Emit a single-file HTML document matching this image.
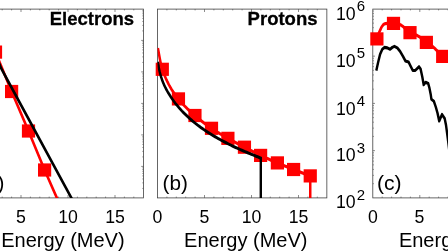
<!DOCTYPE html>
<html><head><meta charset="utf-8"><title>Energy spectra</title>
<style>html,body{margin:0;padding:0;background:#fff;overflow:hidden}svg{display:block}text{font-family:"Liberation Sans",sans-serif;fill:#000}</style></head><body>
<svg width="448" height="252" viewBox="0 0 448 252">
<rect width="448" height="252" fill="#fff"/>
<path d="M-16.60 197.9v-1.3M-16.60 9.1v1.3M-7.20 197.9v-1.3M-7.20 9.1v1.3M2.20 197.9v-1.3M2.20 9.1v1.3M11.60 197.9v-1.3M11.60 9.1v1.3M21.00 197.9v-2.9M21.00 9.1v2.9M30.40 197.9v-1.3M30.40 9.1v1.3M39.80 197.9v-1.3M39.80 9.1v1.3M49.20 197.9v-1.3M49.20 9.1v1.3M58.60 197.9v-1.3M58.60 9.1v1.3M68.00 197.9v-2.9M68.00 9.1v2.9M77.40 197.9v-1.3M77.40 9.1v1.3M86.80 197.9v-1.3M86.80 9.1v1.3M96.20 197.9v-1.3M96.20 9.1v1.3M105.60 197.9v-1.3M105.60 9.1v1.3M115.00 197.9v-2.9M115.00 9.1v2.9M124.40 197.9v-1.3M124.40 9.1v1.3M133.80 197.9v-1.3M133.80 9.1v1.3M-26.00 188.42h1.05M143.40 188.42h-1.05M-26.00 182.87h1.05M143.40 182.87h-1.05M-26.00 178.94h1.05M143.40 178.94h-1.05M-26.00 175.88h1.05M143.40 175.88h-1.05M-26.00 173.39h1.05M143.40 173.39h-1.05M-26.00 171.28h1.05M143.40 171.28h-1.05M-26.00 169.45h1.05M143.40 169.45h-1.05M-26.00 167.84h1.05M143.40 167.84h-1.05M-26.00 166.40h2.2M143.40 166.40h-2.2M-26.00 156.92h1.05M143.40 156.92h-1.05M-26.00 151.37h1.05M143.40 151.37h-1.05M-26.00 147.44h1.05M143.40 147.44h-1.05M-26.00 144.38h1.05M143.40 144.38h-1.05M-26.00 141.89h1.05M143.40 141.89h-1.05M-26.00 139.78h1.05M143.40 139.78h-1.05M-26.00 137.95h1.05M143.40 137.95h-1.05M-26.00 136.34h1.05M143.40 136.34h-1.05M-26.00 134.90h2.2M143.40 134.90h-2.2M-26.00 125.42h1.05M143.40 125.42h-1.05M-26.00 119.87h1.05M143.40 119.87h-1.05M-26.00 115.94h1.05M143.40 115.94h-1.05M-26.00 112.88h1.05M143.40 112.88h-1.05M-26.00 110.39h1.05M143.40 110.39h-1.05M-26.00 108.28h1.05M143.40 108.28h-1.05M-26.00 106.45h1.05M143.40 106.45h-1.05M-26.00 104.84h1.05M143.40 104.84h-1.05M-26.00 103.40h2.2M143.40 103.40h-2.2M-26.00 93.92h1.05M143.40 93.92h-1.05M-26.00 88.37h1.05M143.40 88.37h-1.05M-26.00 84.44h1.05M143.40 84.44h-1.05M-26.00 81.38h1.05M143.40 81.38h-1.05M-26.00 78.89h1.05M143.40 78.89h-1.05M-26.00 76.78h1.05M143.40 76.78h-1.05M-26.00 74.95h1.05M143.40 74.95h-1.05M-26.00 73.34h1.05M143.40 73.34h-1.05M-26.00 71.90h2.2M143.40 71.90h-2.2M-26.00 62.42h1.05M143.40 62.42h-1.05M-26.00 56.87h1.05M143.40 56.87h-1.05M-26.00 52.94h1.05M143.40 52.94h-1.05M-26.00 49.88h1.05M143.40 49.88h-1.05M-26.00 47.39h1.05M143.40 47.39h-1.05M-26.00 45.28h1.05M143.40 45.28h-1.05M-26.00 43.45h1.05M143.40 43.45h-1.05M-26.00 41.84h1.05M143.40 41.84h-1.05M-26.00 40.40h2.2M143.40 40.40h-2.2M-26.00 30.92h1.05M143.40 30.92h-1.05M-26.00 25.37h1.05M143.40 25.37h-1.05M-26.00 21.44h1.05M143.40 21.44h-1.05M-26.00 18.38h1.05M143.40 18.38h-1.05M-26.00 15.89h1.05M143.40 15.89h-1.05M-26.00 13.78h1.05M143.40 13.78h-1.05M-26.00 11.95h1.05M143.40 11.95h-1.05M-26.00 10.34h1.05M143.40 10.34h-1.05" stroke="#404040" stroke-width="0.6" fill="none"/>
<path d="M166.90 197.9v-1.3M166.90 9.1v1.3M176.30 197.9v-1.3M176.30 9.1v1.3M185.70 197.9v-1.3M185.70 9.1v1.3M195.10 197.9v-1.3M195.10 9.1v1.3M204.50 197.9v-2.9M204.50 9.1v2.9M213.90 197.9v-1.3M213.90 9.1v1.3M223.30 197.9v-1.3M223.30 9.1v1.3M232.70 197.9v-1.3M232.70 9.1v1.3M242.10 197.9v-1.3M242.10 9.1v1.3M251.50 197.9v-2.9M251.50 9.1v2.9M260.90 197.9v-1.3M260.90 9.1v1.3M270.30 197.9v-1.3M270.30 9.1v1.3M279.70 197.9v-1.3M279.70 9.1v1.3M289.10 197.9v-1.3M289.10 9.1v1.3M298.50 197.9v-2.9M298.50 9.1v2.9M307.90 197.9v-1.3M307.90 9.1v1.3M317.30 197.9v-1.3M317.30 9.1v1.3" stroke="#404040" stroke-width="0.6" fill="none"/>
<path d="M382.20 197.9v-1.3M382.20 9.1v1.3M391.60 197.9v-1.3M391.60 9.1v1.3M401.00 197.9v-1.3M401.00 9.1v1.3M410.40 197.9v-1.3M410.40 9.1v1.3M419.80 197.9v-2.9M419.80 9.1v2.9M429.20 197.9v-1.3M429.20 9.1v1.3M438.60 197.9v-1.3M438.60 9.1v1.3M448.00 197.9v-1.3M448.00 9.1v1.3M457.40 197.9v-1.3M457.40 9.1v1.3M466.80 197.9v-2.9M466.80 9.1v2.9M476.20 197.9v-1.3M476.20 9.1v1.3M485.60 197.9v-1.3M485.60 9.1v1.3M495.00 197.9v-1.3M495.00 9.1v1.3M504.40 197.9v-1.3M504.40 9.1v1.3M513.80 197.9v-2.9M513.80 9.1v2.9M523.20 197.9v-1.3M523.20 9.1v1.3M532.60 197.9v-1.3M532.60 9.1v1.3M372.80 183.68h1.05M542.00 183.68h-1.05M372.80 175.36h1.05M542.00 175.36h-1.05M372.80 169.45h1.05M542.00 169.45h-1.05M372.80 164.87h1.05M542.00 164.87h-1.05M372.80 161.13h1.05M542.00 161.13h-1.05M372.80 157.97h1.05M542.00 157.97h-1.05M372.80 155.23h1.05M542.00 155.23h-1.05M372.80 152.81h1.05M542.00 152.81h-1.05M372.80 150.65h2.2M542.00 150.65h-2.2M372.80 136.43h1.05M542.00 136.43h-1.05M372.80 128.11h1.05M542.00 128.11h-1.05M372.80 122.20h1.05M542.00 122.20h-1.05M372.80 117.62h1.05M542.00 117.62h-1.05M372.80 113.88h1.05M542.00 113.88h-1.05M372.80 110.72h1.05M542.00 110.72h-1.05M372.80 107.98h1.05M542.00 107.98h-1.05M372.80 105.56h1.05M542.00 105.56h-1.05M372.80 103.40h2.2M542.00 103.40h-2.2M372.80 89.18h1.05M542.00 89.18h-1.05M372.80 80.86h1.05M542.00 80.86h-1.05M372.80 74.95h1.05M542.00 74.95h-1.05M372.80 70.37h1.05M542.00 70.37h-1.05M372.80 66.63h1.05M542.00 66.63h-1.05M372.80 63.47h1.05M542.00 63.47h-1.05M372.80 60.73h1.05M542.00 60.73h-1.05M372.80 58.31h1.05M542.00 58.31h-1.05M372.80 56.15h2.2M542.00 56.15h-2.2M372.80 41.93h1.05M542.00 41.93h-1.05M372.80 33.61h1.05M542.00 33.61h-1.05M372.80 27.70h1.05M542.00 27.70h-1.05M372.80 23.12h1.05M542.00 23.12h-1.05M372.80 19.38h1.05M542.00 19.38h-1.05M372.80 16.22h1.05M542.00 16.22h-1.05M372.80 13.48h1.05M542.00 13.48h-1.05M372.80 11.06h1.05M542.00 11.06h-1.05" stroke="#404040" stroke-width="0.6" fill="none"/>
<rect x="-26.0" y="9.1" width="169.40" height="188.80" fill="none" stroke="#404040" stroke-width="0.8"/>
<rect x="157.5" y="9.1" width="169.35" height="188.80" fill="none" stroke="#404040" stroke-width="0.8"/>
<rect x="372.8" y="9.1" width="169.20" height="188.80" fill="none" stroke="#404040" stroke-width="0.8"/>
<defs>
<clipPath id="ca"><rect x="-26.0" y="9.1" width="169.40" height="188.80"/></clipPath>
<clipPath id="cb"><rect x="157.5" y="9.1" width="169.35" height="188.80"/></clipPath>
<clipPath id="cc"><rect x="372.8" y="9.1" width="169.20" height="188.80"/></clipPath>
</defs>
<g clip-path="url(#ca)"><g transform="scale(0.78 1)"><polyline points="-26.79,12.80 -5.77,52.10 14.87,91.50 36.54,131.00 57.18,170.00 74.10,200.00" fill="none" stroke="#ff0000" stroke-width="3.2"/></g></g>
<g clip-path="url(#cb)"><g transform="scale(0.78 1)"><polyline points="202.44,48.00 203.66,53.33 204.89,58.58 206.12,63.40 207.35,67.43 208.58,70.42 209.81,73.05 211.03,75.50 212.26,77.80 213.49,79.95 214.72,81.97 215.95,83.86 217.18,85.64 218.41,87.32 219.63,88.90 220.86,90.40 222.09,91.84 223.32,93.21 224.55,94.54 225.78,95.83 227.00,97.09 228.23,98.34 229.46,99.58 230.69,100.78 231.92,101.92 233.15,103.03 234.38,104.10 235.60,105.12 236.83,106.12 238.06,107.09 239.29,108.03 240.52,108.94 241.75,109.83 242.97,110.71 244.20,111.57 245.43,112.42 246.66,113.27 247.89,114.11 249.12,114.94 250.34,115.78 251.57,116.61 252.80,117.42 254.03,118.22 255.26,119.02 256.49,119.80 257.72,120.57 258.94,121.32 260.17,122.07 261.40,122.81 262.63,123.53 263.86,124.25 265.09,124.95 266.31,125.65 267.54,126.34 268.77,127.01 270.00,127.68 271.23,128.34 272.46,128.99 273.68,129.63 274.91,130.26 276.14,130.87 277.37,131.48 278.60,132.09 279.83,132.68 281.06,133.27 282.28,133.85 283.51,134.42 284.74,134.99 285.97,135.55 287.20,136.11 288.43,136.67 289.65,137.22 290.88,137.77 292.11,138.32 293.34,138.86 294.57,139.40 295.80,139.93 297.03,140.46 298.25,140.98 299.48,141.50 300.71,142.02 301.94,142.53 303.17,143.04 304.40,143.54 305.62,144.04 306.85,144.54 308.08,145.04 309.31,145.54 310.54,146.04 311.77,146.54 312.99,147.04 314.22,147.54 315.45,148.04 316.68,148.53 317.91,149.03 319.14,149.53 320.37,150.03 321.59,150.53 322.82,151.02 324.05,151.51 325.28,152.00 326.51,152.49 327.74,152.97 328.96,153.45 330.19,153.92 331.42,154.39 332.65,154.86 333.88,155.32 335.11,155.77 336.33,156.22 337.56,156.67 338.79,157.11 340.02,157.55 341.25,157.99 342.48,158.42 343.71,158.85 344.93,159.28 346.16,159.70 347.39,160.12 348.62,160.54 349.85,160.96 351.08,161.37 352.30,161.79 353.53,162.20 354.76,162.61 355.99,163.02 357.22,163.42 358.45,163.82 359.68,164.23 360.90,164.62 362.13,165.02 363.36,165.41 364.59,165.81 365.82,166.20 367.05,166.58 368.27,166.97 369.50,167.36 370.73,167.74 371.96,168.12 373.19,168.50 374.42,168.88 375.64,169.26 376.87,169.64 378.10,170.02 379.33,170.40 380.56,170.77 381.79,171.15 383.02,171.52 384.24,171.89 385.47,172.26 386.70,172.63 387.93,173.00 389.16,173.37 390.39,173.73 391.61,174.10 392.84,174.46 394.07,174.82 395.30,175.18 396.53,175.54 397.76,175.90 397.76,199.00" fill="none" stroke="#ff0000" stroke-width="3.2" stroke-linejoin="round"/></g></g>
<g clip-path="url(#cc)"><g transform="scale(0.78 1)"><polyline points="483.21,38.90 484.87,34.80 486.15,32.30 487.56,29.90 489.23,27.00 491.54,24.60 494.23,23.60 496.79,23.30 500.00,23.30 504.49,23.40 505.20,23.29 505.90,23.23 506.61,23.20 507.32,23.21 508.03,23.26 508.73,23.35 509.44,23.47 510.15,23.63 510.86,23.83 511.57,24.06 512.27,24.32 512.98,24.61 513.69,24.93 514.40,25.28 515.10,25.66 515.81,26.05 516.52,26.47 517.23,26.91 517.94,27.37 518.64,27.84 519.35,28.33 520.06,28.82 520.77,29.32 521.47,29.82 522.18,30.33 522.89,30.82 523.60,31.32 524.31,31.80 525.01,32.27 525.72,32.65 526.43,32.84 527.14,33.03 527.85,33.22 528.55,33.42 529.26,33.62 529.97,33.82 530.68,34.04 531.38,34.26 532.09,34.49 532.80,34.74 533.51,35.00 534.22,35.27 534.92,35.55 535.63,35.85 536.34,36.17 537.05,36.50 537.75,36.85 538.46,37.21 539.17,37.59 539.88,37.99 540.59,38.40 541.29,38.82 542.00,39.26 542.71,39.72 543.42,40.18 544.13,40.66 544.83,41.15 545.54,41.65 546.25,42.15 546.96,42.52 547.66,42.80 548.37,43.10 549.08,43.41 549.79,43.75 550.50,44.10 551.20,44.47 551.91,44.86 552.62,45.26 553.33,45.69 554.03,46.13 554.74,46.59 555.45,47.07 556.16,47.56 556.87,48.06 557.57,48.58 558.28,49.11 558.99,49.66 559.70,50.21 560.41,50.77 561.11,51.33 561.82,51.90 562.53,52.48 563.24,53.05 563.94,53.62 564.65,54.18 565.36,54.74 566.07,55.29 566.78,55.82 567.48,56.34 568.19,56.63 568.90,56.88 569.61,57.13 570.31,57.38 571.02,57.64 571.73,57.89 572.44,58.16 573.15,58.42 573.85,58.70 574.56,58.98 575.27,59.26 575.98,59.56 576.68,59.86 577.39,60.17 578.10,60.50 578.81,60.83 579.52,61.16 580.22,61.51 580.93,61.87 581.64,62.23 582.35,62.60 583.06,62.97 583.76,63.35 584.47,63.73 585.18,64.12 585.89,64.50 586.59,64.89 587.30,65.27 588.01,65.65 588.72,65.98" fill="none" stroke="#ff0000" stroke-width="3.2" stroke-linejoin="round"/></g></g>
<g fill="#ff0000"><rect x="-27.50" y="6.20" width="13.2" height="13.2"/><rect x="-11.10" y="45.50" width="13.2" height="13.2"/><rect x="5.00" y="84.90" width="13.2" height="13.2"/><rect x="21.90" y="124.40" width="13.2" height="13.2"/><rect x="38.00" y="163.40" width="13.2" height="13.2"/><rect x="155.70" y="62.70" width="13.2" height="13.2"/><rect x="171.85" y="92.30" width="13.2" height="13.2"/><rect x="188.35" y="108.90" width="13.2" height="13.2"/><rect x="204.90" y="121.70" width="13.2" height="13.2"/><rect x="221.30" y="131.75" width="13.2" height="13.2"/><rect x="237.85" y="140.60" width="13.2" height="13.2"/><rect x="254.00" y="148.80" width="13.2" height="13.2"/><rect x="270.80" y="156.30" width="13.2" height="13.2"/><rect x="287.00" y="162.90" width="13.2" height="13.2"/><rect x="303.65" y="169.30" width="13.2" height="13.2"/><rect x="370.30" y="32.30" width="13.2" height="13.2"/><rect x="386.90" y="16.80" width="13.2" height="13.2"/><rect x="403.40" y="26.05" width="13.2" height="13.2"/><rect x="419.75" y="35.80" width="13.2" height="13.2"/><rect x="436.10" y="49.80" width="13.2" height="13.2"/><rect x="452.60" y="59.40" width="13.2" height="13.2"/></g>
<g clip-path="url(#ca)"><g transform="scale(0.78 1)"><polyline points="-18.23,40.00 -0.64,64.20 1.54,68.40 9.56,80.00 94.34,202.00" fill="none" stroke="#000" stroke-width="3.1" stroke-linejoin="round"/></g></g>
<g clip-path="url(#cb)"><g transform="scale(0.78 1)"><polyline points="202.50,61.73 202.81,63.73 203.12,65.41 203.43,66.89 203.74,68.23 204.05,69.45 204.36,70.58 204.67,71.64 204.99,72.64 205.30,73.58 205.61,74.48 205.92,75.34 206.23,76.16 206.54,76.95 206.85,77.71 207.16,78.44 207.47,79.14 207.78,79.82 208.09,80.48 208.40,81.12 208.71,81.75 209.02,82.35 209.33,82.95 209.64,83.52 209.96,84.09 210.27,84.64 210.58,85.18 210.89,85.71 211.20,86.22 211.51,86.73 211.82,87.23 212.13,87.72 212.44,88.20 212.75,88.67 213.06,89.13 213.37,89.58 213.68,90.03 213.99,90.47 214.30,90.91 214.62,91.33 215.26,92.19 217.28,94.75 219.29,97.24 221.31,99.56 223.33,101.73 225.35,103.79 227.37,105.73 229.39,107.58 231.41,109.36 233.42,111.08 235.44,112.72 237.46,114.30 239.48,115.83 241.50,117.30 243.52,118.72 245.54,120.10 247.56,121.43 249.57,122.73 251.59,123.99 253.61,125.21 255.63,126.39 257.65,127.54 259.67,128.66 261.69,129.75 263.70,130.82 265.72,131.86 267.74,132.88 269.76,133.88 271.78,134.85 273.80,135.81 275.82,136.74 277.84,137.66 279.85,138.55 281.87,139.43 283.89,140.30 285.91,141.14 287.93,141.98 289.95,142.79 291.97,143.60 293.99,144.39 296.00,145.17 298.02,145.94 300.04,146.69 302.06,147.43 304.08,148.16 306.10,148.88 308.12,149.59 310.13,150.28 312.15,150.97 314.17,151.64 316.19,152.31 318.21,152.96 320.23,153.61 322.25,154.25 324.27,154.89 326.28,155.55 328.30,156.20 330.32,156.84 332.34,157.47 334.36,158.10 334.36,199.00" fill="none" stroke="#000" stroke-width="3.1" stroke-linejoin="miter"/></g></g>
<g clip-path="url(#cc)"><g transform="scale(0.78 1)"><polyline points="482.44,70.70 484.62,62.90 487.31,54.30 490.13,49.30 492.82,47.40 496.54,47.90 500.13,49.30 502.95,47.40 505.64,46.40 509.36,47.90 512.95,51.40 516.67,56.40 519.74,60.90 523.85,62.00 526.15,65.70 529.23,70.50 532.44,70.40 537.18,66.70 539.23,69.00 541.41,76.80 543.21,84.80 545.64,82.20 548.97,83.50 550.64,88.30 552.18,94.30 553.08,99.20 556.28,101.30 558.72,107.00 560.90,113.00 563.08,121.00 566.67,114.40 570.13,118.60 571.79,125.00 573.33,134.00 575.00,144.00 576.41,153.00" fill="none" stroke="#000" stroke-width="3.1" stroke-linejoin="round" stroke-linecap="butt"/></g></g>
<text x="21.0" y="222.6" font-size="17.7" text-anchor="middle" font-weight="normal">5</text>
<text x="68.0" y="222.6" font-size="17.7" text-anchor="middle" font-weight="normal">10</text>
<text x="115.0" y="222.6" font-size="17.7" text-anchor="middle" font-weight="normal">15</text>
<text x="62.9" y="247.3" font-size="20" text-anchor="middle" font-weight="normal">Energy (MeV)</text>
<text x="157.5" y="222.6" font-size="17.7" text-anchor="middle" font-weight="normal">0</text>
<text x="204.5" y="222.6" font-size="17.7" text-anchor="middle" font-weight="normal">5</text>
<text x="251.5" y="222.6" font-size="17.7" text-anchor="middle" font-weight="normal">10</text>
<text x="298.5" y="222.6" font-size="17.7" text-anchor="middle" font-weight="normal">15</text>
<text x="245.78" y="247.3" font-size="20" text-anchor="middle" font-weight="normal">Energy (MeV)</text>
<text x="372.8" y="222.6" font-size="17.7" text-anchor="middle" font-weight="normal">0</text>
<text x="419.35" y="222.6" font-size="17.7" text-anchor="middle" font-weight="normal">5</text>
<text x="466.35" y="222.6" font-size="17.7" text-anchor="middle" font-weight="normal">10</text>
<text x="513.35" y="222.6" font-size="17.7" text-anchor="middle" font-weight="normal">15</text>
<text x="460.6" y="247.3" font-size="20" text-anchor="middle" font-weight="normal">Energy (MeV)</text>
<text x="134.1" y="25" font-size="18.5" text-anchor="end" font-weight="bold" stroke="#000" stroke-width="0.3">Electrons</text>
<text x="317.5" y="25" font-size="18.5" text-anchor="end" font-weight="bold" stroke="#000" stroke-width="0.3">Protons</text>
<text x="-20.9" y="190.4" font-size="20.7" text-anchor="start" font-weight="normal">(a)</text>
<text x="162.5" y="190.4" font-size="20.7" text-anchor="start" font-weight="normal">(b)</text>
<text x="376.9" y="190.4" font-size="21.1" text-anchor="start" font-weight="normal">(c)</text>
<text x="335.9" y="19.55" font-size="17.7">10<tspan dy="-8.9" dx="1.1" font-size="15">6</tspan></text>
<text x="335.9" y="67.35" font-size="17.7">10<tspan dy="-8.9" dx="1.1" font-size="15">5</tspan></text>
<text x="335.9" y="114.95" font-size="17.7">10<tspan dy="-8.9" dx="1.1" font-size="15">4</tspan></text>
<text x="335.9" y="161.40" font-size="17.7">10<tspan dy="-8.9" dx="1.1" font-size="15">3</tspan></text>
<text x="335.9" y="208.40" font-size="17.7">10<tspan dy="-8.9" dx="1.1" font-size="15">2</tspan></text>
</svg></body></html>
